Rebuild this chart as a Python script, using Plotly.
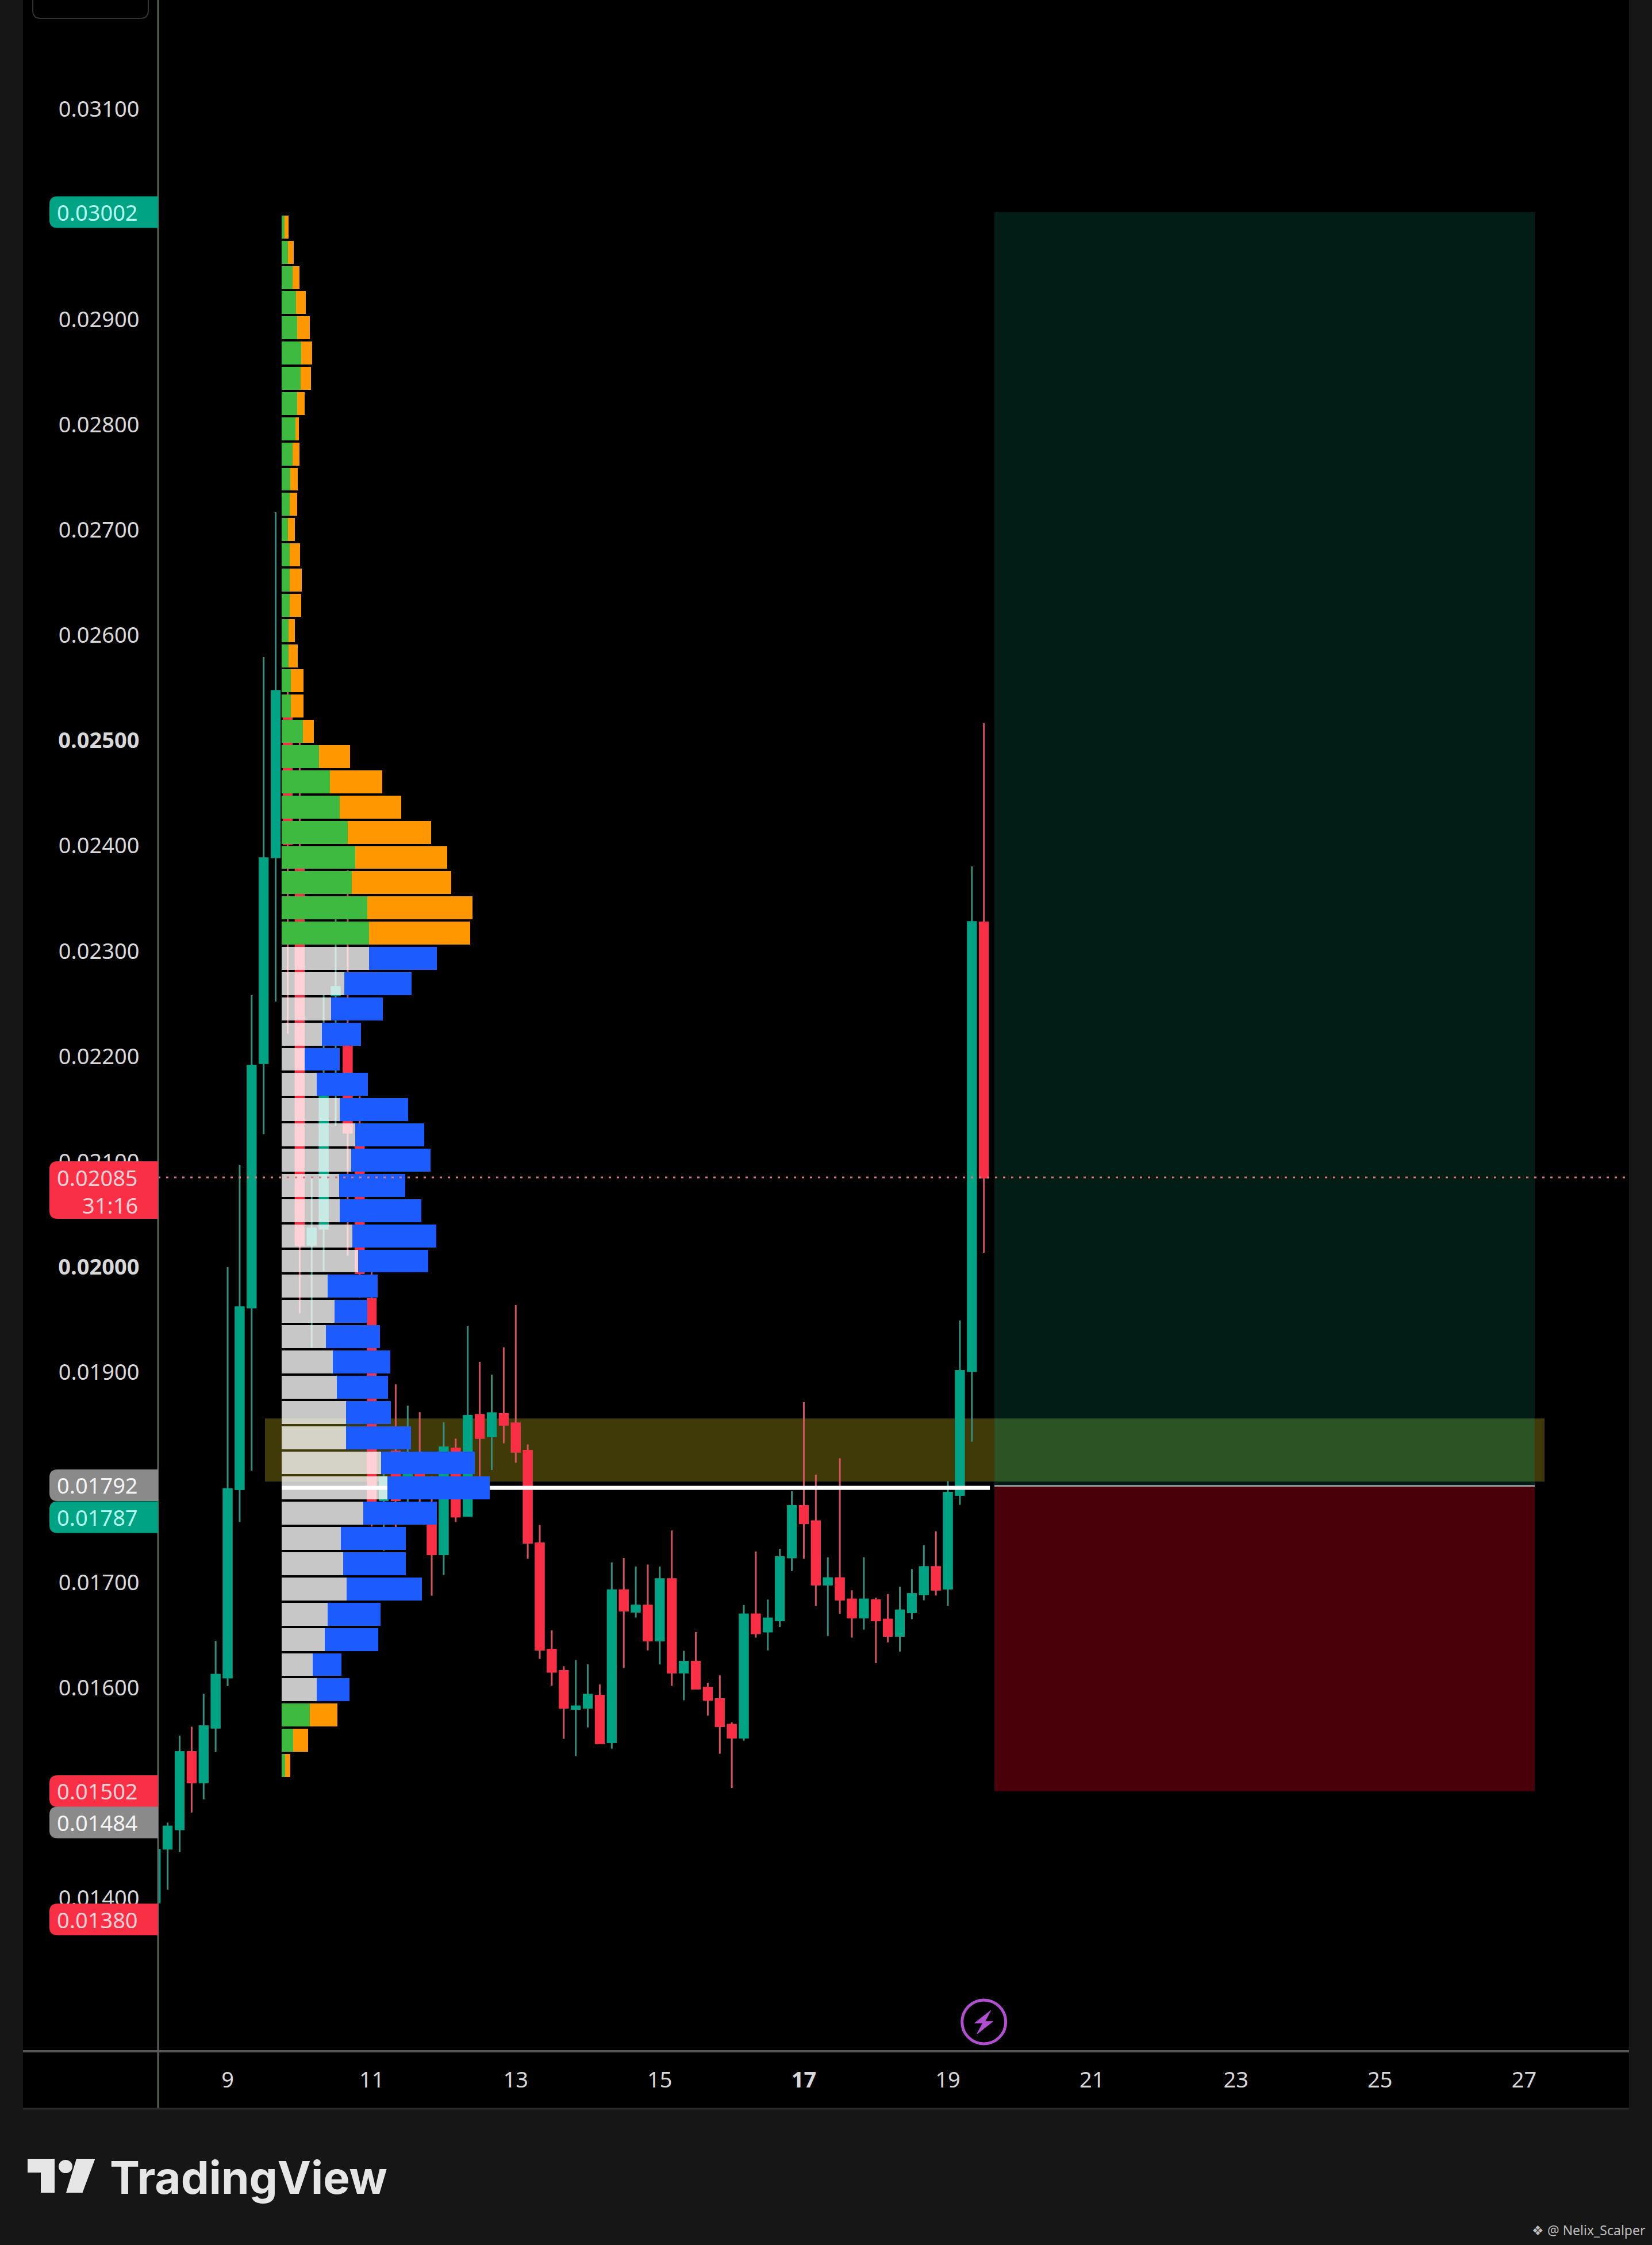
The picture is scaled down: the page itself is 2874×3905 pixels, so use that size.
"""TradingView style 4h chart with a volume profile and a long position box."""

import pandas as pd
import plotly.graph_objects as go

WIDTH = 2874
HEIGHT = 3905
PANE_LEFT = 40
PANE_RIGHT = 2834
PANE_BOTTOM = 3668
AXIS_X = 275
AXIS_Y = 3568

BG_COLOR = "#161616"
UP_BODY = "#00a383"
DOWN_BODY = "#f92f45"
UP_WICK = "#3a8c7d"
DOWN_WICK = "#d4545e"
LABEL_GRAY = "#8a8a8a"
TICK_COLOR = "#d8d8d8"
FONT = "Noto Sans"

CANDLE_START = "2025-10-08 00:00"
OPEN = [
    0.013963, 0.014473, 0.014657, 0.015389, 0.015104, 0.015623, 0.016099, 0.017888, 0.019615, 0.021937,
    0.023892, 0.025225, 0.023805, 0.020211, 0.020364, 0.022581, 0.022100, 0.021161, 0.019694, 0.017784,
    0.018244, 0.018014, 0.018223, 0.017545, 0.017270, 0.018273, 0.017634, 0.018592, 0.018390, 0.018602,
    0.018512, 0.018251, 0.017373, 0.016363, 0.016161, 0.015802, 0.015813, 0.015924, 0.015485, 0.016927,
    0.016725, 0.016781, 0.016450, 0.017032, 0.016147, 0.016248, 0.016001, 0.015893, 0.015649, 0.015527,
    0.016697, 0.016537, 0.016641, 0.017241, 0.017728, 0.017582, 0.016983, 0.017042, 0.016840, 0.016669,
    0.016833, 0.016648, 0.016495, 0.016718, 0.016892, 0.017147, 0.016944, 0.017833, 0.019010, 0.023270,
]
HIGH = [
    0.014461, 0.014720, 0.015547, 0.015631, 0.015945, 0.016446, 0.019998, 0.020970, 0.022581, 0.025792,
    0.027169, 0.025500, 0.025000, 0.020855, 0.022581, 0.023307, 0.023766, 0.021620, 0.019957, 0.018200,
    0.018883, 0.018682, 0.018620, 0.018014, 0.018524, 0.018369, 0.019435, 0.019097, 0.018975, 0.019236,
    0.019637, 0.018313, 0.017547, 0.016547, 0.016206, 0.016265, 0.016224, 0.016032, 0.017192, 0.017234,
    0.017153, 0.017171, 0.017153, 0.017495, 0.016352, 0.016530, 0.016049, 0.016119, 0.015673, 0.016788,
    0.017296, 0.016840, 0.017321, 0.017868, 0.018714, 0.018024, 0.017241, 0.018181, 0.016927, 0.017241,
    0.016857, 0.016892, 0.016962, 0.017129, 0.017356, 0.017488, 0.017965, 0.019491, 0.023805, 0.025165,
]
LOW = [
    0.013963, 0.014084, 0.014440, 0.014816, 0.014941, 0.015393, 0.016016, 0.017575, 0.018064, 0.021260,
    0.022520, 0.022215, 0.019560, 0.019233, 0.019960, 0.021336, 0.020107, 0.019706, 0.017533, 0.017303,
    0.017512, 0.017763, 0.017763, 0.016877, 0.017073, 0.017575, 0.017634, 0.018007, 0.018070, 0.018324,
    0.018139, 0.017227, 0.016276, 0.016022, 0.015516, 0.015353, 0.015624, 0.015468, 0.015422, 0.016189,
    0.016669, 0.016356, 0.016224, 0.016022, 0.015882, 0.015994, 0.015736, 0.015374, 0.015050, 0.015499,
    0.016478, 0.016356, 0.016579, 0.017108, 0.017227, 0.016781, 0.016492, 0.016704, 0.016478, 0.016554,
    0.016234, 0.016432, 0.016345, 0.016652, 0.016833, 0.016878, 0.016781, 0.017739, 0.018338, 0.020134,
]
CLOSE = [
    0.014461, 0.014682, 0.015389, 0.015104, 0.015635, 0.016124, 0.017888, 0.019615, 0.021910, 0.023881,
    0.025470, 0.024018, 0.020205, 0.020364, 0.021620, 0.022658, 0.021276, 0.019941, 0.017775, 0.018001,
    0.017784, 0.018223, 0.018014, 0.017270, 0.018285, 0.017629, 0.018585, 0.018376, 0.018609, 0.018501,
    0.018244, 0.017380, 0.016363, 0.016154, 0.015813, 0.015823, 0.015934, 0.015475, 0.016927, 0.016736,
    0.016781, 0.016450, 0.017032, 0.016147, 0.016248, 0.015994, 0.015886, 0.015638, 0.015527, 0.016697,
    0.016520, 0.016659, 0.017241, 0.017728, 0.017564, 0.016983, 0.017042, 0.016840, 0.016669, 0.016840,
    0.016641, 0.016495, 0.016736, 0.016892, 0.017147, 0.016934, 0.017854, 0.019010, 0.023274, 0.020850,
]

# volume profile rows, bottom to top
VP_PRICE = [
    0.015263, 0.015503, 0.015742, 0.015982, 0.016221, 0.016461, 0.016701, 0.016940, 0.017180, 0.017419,
    0.017659, 0.017899, 0.018138, 0.018378, 0.018617, 0.018857, 0.019097, 0.019336, 0.019576, 0.019815,
    0.020055, 0.020295, 0.020534, 0.020774, 0.021013, 0.021253, 0.021493, 0.021732, 0.021972, 0.022211,
    0.022451, 0.022691, 0.022930, 0.023170, 0.023409, 0.023649, 0.023889, 0.024128, 0.024368, 0.024607,
    0.024847, 0.025087, 0.025326, 0.025566, 0.025805, 0.026045, 0.026285, 0.026524, 0.026764, 0.027003,
    0.027243, 0.027483, 0.027722, 0.027962, 0.028201, 0.028441, 0.028681, 0.028920, 0.029160, 0.029399,
    0.029639, 0.029879,
]
VP_UP = [
    6, 20, 49, 61, 54, 75, 80, 113, 107, 103,
    142, 184, 173, 112, 112, 96, 89, 77, 92, 80,
    133, 123, 101, 100, 121, 128, 101, 61, 40, 70,
    86, 109, 152, 152, 149, 122, 128, 115, 101, 84,
    65, 37, 16, 16, 12, 12, 14, 14, 14, 11,
    14, 15, 19, 24, 27, 33, 34, 27, 25, 19,
    11, 5,
]
VP_DOWN = [
    9, 26, 48, 57, 50, 93, 92, 131, 109, 113,
    128, 178, 163, 113, 78, 89, 100, 94, 57, 87,
    122, 146, 142, 115, 138, 120, 119, 89, 61, 68,
    90, 117, 118, 176, 183, 173, 160, 145, 107, 91,
    54, 19, 22, 22, 16, 11, 20, 21, 18, 12,
    13, 13, 12, 6, 13, 18, 19, 22, 17, 12,
    10, 7,
]
VALUE_AREA_ROWS = range(3, 33)

POC_PRICE = 0.01790
POC_START = "2025-10-09 18:00"
POC_END = "2025-10-19 14:00"
LAST_PRICE = 0.02085
TARGET_PRICE = 0.03002
ENTRY_PRICE = 0.01792
STOP_PRICE = 0.01502
BOX_START = "2025-10-19 15:30"
BOX_END = "2025-10-27 03:33"
ZONE_TOP = 0.01856
ZONE_BOTTOM = 0.01796
ZONE_START = "2025-10-09 12:27"
ZONE_END = "2025-10-27 06:49"

Y_TICKS = [0.031, 0.029, 0.028, 0.027, 0.026, 0.025, 0.024, 0.023, 0.022, 0.021, 0.020, 0.019, 0.017, 0.016, 0.014]
BOLD_TICKS = [0.025, 0.020]
X_TICK_DAYS = [9, 11, 13, 15, 17, 19, 21, 23, 25, 27]
BOLD_DAYS = [17]

# (text, label centre on the price scale, fill, text colour)
PRICE_LABELS = [
    ("0.03002", 0.03002, UP_BODY, "#b4fff0"),
    ("0.01792", 0.017925, LABEL_GRAY, "#f4f4f4"),
    ("0.01787", 0.017622, UP_BODY, "#b4fff0"),
    ("0.01502", 0.01502, DOWN_BODY, "#ffd0d5"),
    ("0.01484", 0.014722, LABEL_GRAY, "#f4f4f4"),
    ("0.01380", 0.01380, DOWN_BODY, "#ffd0d5"),
]

Y_TOP = 0.032035
Y_BOTTOM = 0.012548
X_RANGE = ["2025-10-08 00:49", "2025-10-28 10:58"]
VP_RANGE = [-215, 2344]


def px(x):
    return x / WIDTH


def py(y):
    return 1 - y / HEIGHT


def _paper_path(points):
    return "M " + " L ".join(f"{px(x)},{py(y)}" for x, y in points) + " Z"


def _add_label_shape(fig, center, color, half_height):
    r = 14
    h = half_height
    w = AXIS_X - 86
    fig.add_shape(
        type="path",
        xref="paper",
        yref="y",
        xsizemode="pixel",
        ysizemode="pixel",
        xanchor=px(86),
        yanchor=center,
        path=f"M {r},{h} L {w},{h} L {w},{-h} L {r},{-h} Q 0,{-h} 0,{r - h} L 0,{h - r} Q 0,{h} {r},{h} Z",
        fillcolor=color,
        line={"width": 0},
        layer="above",
    )


def _add_text(fig, text, x, y, size, color, xanchor="right", yref="y", family=FONT, weight=None):
    font = {"family": family, "size": size, "color": color}
    if weight:
        font["weight"] = weight
    fig.add_annotation(
        text=text,
        xref="paper",
        yref=yref,
        x=px(x),
        y=y,
        xanchor=xanchor,
        yanchor="middle",
        showarrow=False,
        font=font,
    )


dates = pd.date_range(CANDLE_START, periods=len(OPEN), freq="4h")
body_high = [max(o, c) for o, c in zip(OPEN, CLOSE)]
body_low = [min(o, c) for o, c in zip(OPEN, CLOSE)]

fig = go.Figure()

fig.add_trace(
    go.Candlestick(
        x=dates,
        open=OPEN,
        high=HIGH,
        low=LOW,
        close=CLOSE,
        increasing={"line": {"color": UP_WICK, "width": 3}, "fillcolor": UP_WICK},
        decreasing={"line": {"color": DOWN_WICK, "width": 3}, "fillcolor": DOWN_WICK},
        showlegend=False,
        hoverinfo="skip",
    )
)
fig.add_trace(
    go.Candlestick(
        x=dates,
        open=OPEN,
        high=body_high,
        low=body_low,
        close=CLOSE,
        increasing={"line": {"color": UP_BODY, "width": 3}, "fillcolor": UP_BODY},
        decreasing={"line": {"color": DOWN_BODY, "width": 3}, "fillcolor": DOWN_BODY},
        showlegend=False,
        hoverinfo="skip",
    )
)
fig.add_trace(
    go.Scatter(
        x=[POC_START, POC_END],
        y=[POC_PRICE, POC_PRICE],
        mode="lines",
        line={"color": "#ffffff", "width": 7},
        showlegend=False,
        hoverinfo="skip",
    )
)

# the profile sits on its own overlaid axes so that it covers the candles
up_colors = ["rgba(255, 255, 255, 0.78)" if i in VALUE_AREA_ROWS else "#3dba3f" for i in range(len(VP_PRICE))]
down_colors = ["#1c5cff" if i in VALUE_AREA_ROWS else "#ff9800" for i in range(len(VP_PRICE))]
for values, colors in ((VP_UP, up_colors), (VP_DOWN, down_colors)):
    fig.add_trace(
        go.Bar(
            x=values,
            y=VP_PRICE,
            orientation="h",
            width=0.000218,
            marker={"color": colors, "line": {"width": 0}},
            xaxis="x2",
            yaxis="y2",
            showlegend=False,
            hoverinfo="skip",
        )
    )

# pane and chrome
fig.add_shape(
    type="rect", xref="paper", yref="paper",
    x0=px(PANE_LEFT), x1=px(PANE_RIGHT), y0=py(PANE_BOTTOM), y1=1,
    fillcolor="#000000", line={"width": 0}, layer="below",
)
fig.add_shape(
    type="rect", xref="x", yref="y", x0=ZONE_START, x1=ZONE_END, y0=ZONE_BOTTOM, y1=ZONE_TOP,
    fillcolor="#3f3a08", line={"width": 0}, layer="below",
)
fig.add_shape(
    type="rect", xref="x", yref="y", x0=BOX_START, x1=BOX_END, y0=ENTRY_PRICE, y1=TARGET_PRICE,
    fillcolor="#021d15", line={"width": 0}, layer="below",
)
# where the zone crosses the target box
fig.add_shape(
    type="rect", xref="x", yref="y", x0=BOX_START, x1=BOX_END, y0=ZONE_BOTTOM, y1=ZONE_TOP,
    fillcolor="#2b5323", line={"width": 0}, layer="below",
)
fig.add_shape(
    type="rect", xref="x", yref="y", x0=BOX_START, x1=BOX_END, y0=STOP_PRICE, y1=ENTRY_PRICE,
    fillcolor="#4a0008", line={"width": 0}, layer="below",
)
fig.add_shape(
    type="line", xref="x", yref="y", x0=BOX_START, x1=BOX_END, y0=ENTRY_PRICE, y1=ENTRY_PRICE,
    line={"color": "#8f8f8f", "width": 3}, layer="below",
)
fig.add_shape(
    type="line", xref="paper", yref="y", x0=px(AXIS_X), x1=px(PANE_RIGHT), y0=LAST_PRICE, y1=LAST_PRICE,
    line={"color": "#e0747e", "width": 3, "dash": "4px,10px"}, layer="above",
)
fig.add_shape(
    type="line", xref="paper", yref="paper", x0=px(AXIS_X), x1=px(AXIS_X), y0=py(PANE_BOTTOM), y1=1,
    line={"color": "#5a605a", "width": 3}, layer="above",
)
fig.add_shape(
    type="line", xref="paper", yref="paper", x0=px(PANE_LEFT), x1=px(PANE_RIGHT), y0=py(AXIS_Y), y1=py(AXIS_Y),
    line={"color": "#555855", "width": 4}, layer="above",
)
fig.add_shape(
    type="line", xref="paper", yref="paper", x0=px(PANE_LEFT), x1=px(PANE_RIGHT), y0=py(PANE_BOTTOM), y1=py(PANE_BOTTOM),
    line={"color": "#2a2a2a", "width": 3}, layer="above",
)
# the cut off box at the top of the price scale
fig.add_shape(
    type="path", xref="paper", yref="paper",
    path=(
        f"M {px(57)},1 L {px(57)},{py(18)} Q {px(57)},{py(32)} {px(71)},{py(32)} "
        f"L {px(244)},{py(32)} Q {px(258)},{py(32)} {px(258)},{py(18)} L {px(258)},1"
    ),
    line={"color": "#333333", "width": 2},
)

# bolt icon above the time scale
ICON_X = "2025-10-19 12:00"
ICON_Y = 0.012827
fig.add_shape(
    type="circle", xref="x", yref="y", xsizemode="pixel", ysizemode="pixel",
    xanchor=ICON_X, yanchor=ICON_Y, x0=-38, x1=38, y0=-38, y1=38,
    line={"color": "#b14fd0", "width": 5},
)
fig.add_shape(
    type="path", xref="x", yref="y", xsizemode="pixel", ysizemode="pixel",
    xanchor=ICON_X, yanchor=ICON_Y,
    path="M 12,20 L -16,-2 L -2,-2 L -12,-21 L 16,1 L 2,1 Z",
    fillcolor="#b14fd0", line={"width": 1, "color": "#b14fd0"},
)

# price scale labels
for text, center, fill, color in PRICE_LABELS:
    _add_label_shape(fig, center, fill, 27.5)
    _add_text(fig, text, 242, center, 38, color)
_add_label_shape(fig, 0.02073, DOWN_BODY, 50)
_add_text(fig, "0.02085", 242, 0.020850, 38, "#ffd0d5")
_add_text(fig, "31:16", 242, 0.020585, 38, "#ffd0d5")

# TradingView logo and watermark
LOGO_COLOR = "#e6e6e6"
fig.add_shape(
    type="path", xref="paper", yref="paper",
    path=_paper_path([(48, 3755), (95, 3755), (95, 3814), (71, 3814), (71, 3779), (48, 3779)]),
    fillcolor=LOGO_COLOR, line={"width": 0},
)
fig.add_shape(
    type="circle", xref="paper", yref="paper",
    x0=px(102), x1=px(126), y0=py(3780), y1=py(3757),
    fillcolor=LOGO_COLOR, line={"width": 0},
)
fig.add_shape(
    type="path", xref="paper", yref="paper",
    path=_paper_path([(133, 3755), (165.5, 3755), (143.5, 3814), (115, 3814)]),
    fillcolor=LOGO_COLOR, line={"width": 0},
)
_add_text(fig, "TradingView", 189, py(3787), 78, LOGO_COLOR, xanchor="left", yref="paper", family="Inter", weight=700)
_add_text(fig, "❖ @ Nelix_Scalper", 2865, py(3879), 23, "#bdbdbd", yref="paper")

fig.update_layout(
    width=WIDTH,
    height=HEIGHT,
    margin={"l": 0, "r": 0, "t": 0, "b": 0},
    paper_bgcolor=BG_COLOR,
    plot_bgcolor="#000000",
    font={"family": FONT, "color": TICK_COLOR},
    showlegend=False,
    boxmode="overlay",
    boxgap=0.33,
    boxgroupgap=0,
    barmode="stack",
    xaxis={
        "domain": [px(AXIS_X), px(PANE_RIGHT)],
        "type": "date",
        "range": X_RANGE,
        "rangeslider": {"visible": False},
        "tickmode": "array",
        "tickvals": [f"2025-10-{day:02d}" for day in X_TICK_DAYS],
        "ticktext": [f"<b>{day}</b>" if day in BOLD_DAYS else str(day) for day in X_TICK_DAYS],
        "tickfont": {"family": FONT, "size": 38, "color": TICK_COLOR},
        "tickangle": 0,
        "ticks": "outside",
        "ticklen": 16,
        "tickcolor": "rgba(0, 0, 0, 0)",
        "showgrid": False,
        "zeroline": False,
    },
    yaxis={
        "domain": [py(AXIS_Y), 1],
        "range": [Y_BOTTOM, Y_TOP],
        "tickmode": "array",
        "tickvals": Y_TICKS,
        "ticktext": [f"<b>{v:.5f}</b>" if v in BOLD_TICKS else f"{v:.5f}" for v in Y_TICKS],
        "tickfont": {"family": FONT, "size": 38, "color": TICK_COLOR},
        "ticks": "outside",
        "ticklen": 24,
        "tickcolor": "rgba(0, 0, 0, 0)",
        "showgrid": False,
        "zeroline": False,
    },
    xaxis2={"overlaying": "x", "anchor": "y2", "range": VP_RANGE, "visible": False},
    yaxis2={"overlaying": "y", "anchor": "x2", "range": [Y_BOTTOM, Y_TOP], "visible": False},
)

fig.write_html(
    "out.html",
    config={"displayModeBar": False},
    post_script="document.body.style.margin = '0'; document.body.style.background = '#161616';",
)
